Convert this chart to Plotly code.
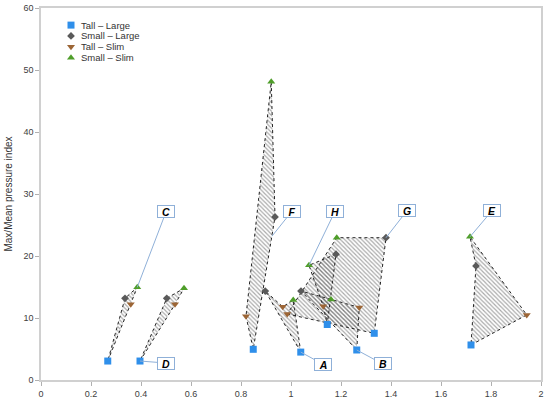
import plotly.graph_objects as go
import math

groups = ["A", "B", "C", "D", "E", "F", "G", "H"]
series = ["Tall – Large", "Small – Large", "Tall – Slim", "Small – Slim"]
# values per series, in group order A..H
x_tall_large = [1.039, 1.263, 0.267, 0.396, 1.720, 0.849, 1.333, 1.145]
y_tall_large = [4.5, 4.84, 3.06, 3.06, 5.65, 4.95, 7.53, 8.95]
x_small_large = [0.897, 1.040, 0.336, 0.503, 1.740, 0.936, 1.380, 1.180]
y_small_large = [14.35, 14.35, 13.18, 13.18, 18.4, 26.3, 22.95, 20.3]
x_tall_slim = [0.967, 1.273, 0.359, 0.536, 1.943, 0.820, 0.985, 1.129]
y_tall_slim = [11.8, 11.7, 12.2, 12.2, 10.5, 10.3, 10.65, 11.9]
x_small_slim = [1.009, 1.160, 0.385, 0.572, 1.716, 0.921, 1.183, 1.072]
y_small_slim = [12.9, 13.0, 14.95, 14.8, 23.1, 48.1, 22.95, 18.5]

xs = [x_tall_large, x_small_large, x_tall_slim, x_small_slim]
ys = [y_tall_large, y_small_large, y_tall_slim, y_small_slim]
colors = ["#2f8fea", "#5a5a5a", "#9c6535", "#4f9e2a"]
symbols = ["square", "diamond", "triangle-down", "triangle-up"]
sizes = [7, 6, 7, 7]

# label callouts: box pixel offset from anchor point
label_offsets = {"A": (22, 12), "B": (26, 14), "C": (29, -76), "D": (26, 2),
                 "E": (22, -26), "F": (20, -25), "G": (21, -27), "H": (26, -54)}
label_series = {"A": 0, "B": 0, "C": 3, "D": 0, "E": 3, "F": 1, "G": 1, "H": 3}

fig = go.Figure()

# polygons (hatched)
for gi, g in enumerate(groups):
    pts = [(xs[s][gi], ys[s][gi]) for s in range(4)]
    cx = sum(p[0] for p in pts) / 4
    cy = sum(p[1] for p in pts) / 4
    pts.sort(key=lambda p: math.atan2((p[1] - cy) * 6.2, (p[0] - cx) * 250))
    pts.append(pts[0])
    fig.add_trace(go.Scatter(
        x=[p[0] for p in pts], y=[p[1] for p in pts], mode="lines",
        line=dict(color="#222222", width=1, dash="dot"),
        fill="toself", fillcolor="rgba(0,0,0,0)",
        fillpattern=dict(shape="\\", fgcolor="#555555", bgcolor="rgba(255,255,255,0)",
                         size=3, solidity=0.4),
        showlegend=False, hoverinfo="skip"))

for s in range(4):
    fig.add_trace(go.Scatter(
        x=xs[s], y=ys[s], mode="markers", name=series[s], showlegend=False,
        marker=dict(symbol=symbols[s], color=colors[s], size=sizes[s], line=dict(width=0))))

# manual legend (in overlay axes spanning the plot area 0..1)
leg_y = [0.954, 0.925, 0.896, 0.866]
for s in range(4):
    fig.add_trace(go.Scatter(
        x=[0.06], y=[leg_y[s]], mode="markers", xaxis="x2", yaxis="y2",
        marker=dict(symbol=symbols[s], color=colors[s], size=sizes[s], line=dict(width=0)),
        showlegend=False, hoverinfo="skip"))
    fig.add_annotation(x=0.075, y=leg_y[s], xref="x2", yref="y2", text=series[s],
                       showarrow=False, xanchor="left", yanchor="middle",
                       font=dict(size=9.5, color="#333333"))

for gi, g in enumerate(groups):
    s = label_series[g]
    ax, ay = label_offsets[g]
    ex, ey = xs[s][gi], ys[s][gi]
    if g == "F":
        ex, ey = 0.924, 23.2
    fig.add_annotation(x=ex, y=ey, ax=ax, ay=ay, text="<b><i>%s</i></b>" % g,
                       showarrow=True, arrowhead=0, arrowwidth=1, arrowcolor="#8fb0d8",
                       bordercolor="#8fb0d8", borderwidth=1, borderpad=1, bgcolor="white",
                       font=dict(family="Liberation Sans, Arial", size=10.5, color="black"),
                       width=14, height=9)

fig.update_layout(
    width=550, height=399,
    margin=dict(l=41, r=9, t=8, b=19),
    paper_bgcolor="white", plot_bgcolor="white",
    font=dict(family="Liberation Sans, Arial", size=9, color="#404040"),
    showlegend=False,
    xaxis=dict(range=[0, 2], tickvals=[0, 0.2, 0.4, 0.6, 0.8, 1, 1.2, 1.4, 1.6, 1.8, 2],
               ticktext=["0", "0.2", "0.4", "0.6", "0.8", "1", "1.2", "1.4", "1.6", "1.8", "2"],
               showgrid=False, zeroline=False, showline=True, linecolor="#d0d0d0",
               linewidth=1.5, mirror=True, ticks="outside", ticklen=4, tickcolor="#b0b0b0",
               automargin=False),
    yaxis=dict(range=[0, 60], tickvals=[0, 10, 20, 30, 40, 50, 60],
               showgrid=False, zeroline=False, showline=True, linecolor="#d0d0d0",
               linewidth=1.5, mirror=True, ticks="outside", ticklen=4, tickcolor="#b0b0b0",
               automargin=False,
               title=dict(text="Max/Mean pressure index", font=dict(size=10, color="#333333"),
                          standoff=9)),
    xaxis2=dict(range=[0, 1], overlaying="x", visible=False, fixedrange=True),
    yaxis2=dict(range=[0, 1], overlaying="y", visible=False, fixedrange=True),
)

fig.write_html("out.html", config={"displayModeBar": False},
               post_script="document.body.style.margin='0';")
